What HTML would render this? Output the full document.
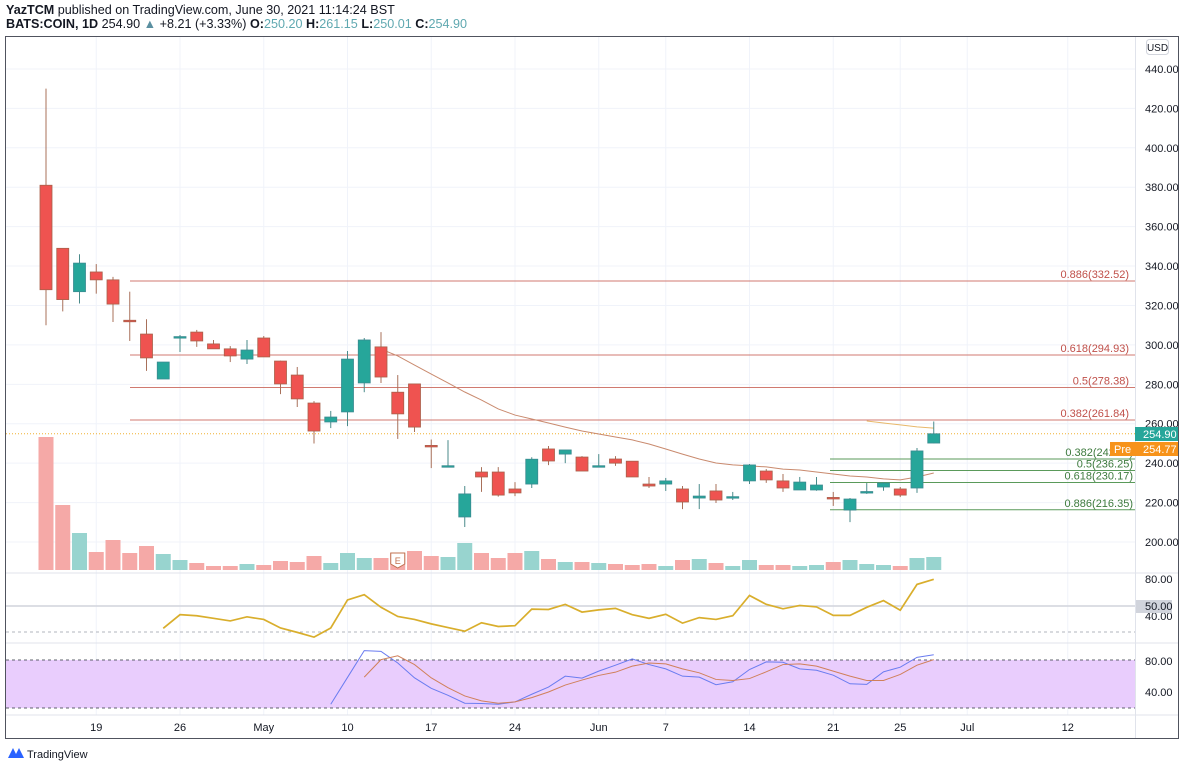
<!DOCTYPE html>
<html><head><meta charset="utf-8">
<style>
html,body{margin:0;padding:0;background:#fff;}
svg{display:block;font-family:"Liberation Sans",sans-serif;}
</style></head>
<body>
<svg id="chart" width="1186" height="768" viewBox="0 0 1186 768" xmlns="http://www.w3.org/2000/svg">
  <g>
    <text x="6" y="14" font-size="12.6" fill="#131722"><tspan font-weight="bold">YazTCM</tspan> published on TradingView.com, June 30, 2021 11:14:24 BST</text>
    <text x="6" y="28" font-size="12.6" fill="#131722"><tspan font-weight="bold">BATS:COIN, 1D</tspan>  254.90 <tspan fill="#5a8fa0">▲</tspan> +8.21 (+3.33%) <tspan font-weight="bold">O:</tspan><tspan fill="#5fa8b0">250.20</tspan> <tspan font-weight="bold">H:</tspan><tspan fill="#5fa8b0">261.15</tspan> <tspan font-weight="bold">L:</tspan><tspan fill="#5fa8b0">250.01</tspan> <tspan font-weight="bold">C:</tspan><tspan fill="#5fa8b0">254.90</tspan></text>
  </g>
  <rect x="5.5" y="36.5" width="1173" height="702" fill="#fff" stroke="#50535e" stroke-width="1"/>
  <g id="grid"></g>
  <g id="main"></g>
  <g id="rsi"></g>
  <g id="stoch"></g>
  <g id="axes"></g>
  <g>
    <path d="M8 758 L13 748 L16 754 L19 748 L24 758 Z" fill="#2962ff"/>
    <text x="27" y="758" font-size="11" fill="#131722">TradingView</text>
  </g>
</svg>
<script>
const opens=[381,349,327,337,333,312.5,305.5,282.7,303.8,306.5,300.5,298,292.8,303.5,291.8,284.7,270.5,260.9,266,280.7,299,276,280.2,249,238.3,212.7,235.5,235.5,226.9,229.4,247.2,244.6,243.1,238.3,242.1,241,229.4,229.4,226.9,222.3,225.9,222.6,231,236,231,226.4,226.4,222.6,216.2,225.2,227.9,226.9,227.4,250.2];
const highs=[430,349,346,341,334.5,327,313,291.3,305,307.6,302.5,299.4,302.5,304.5,292,288.8,271.5,266.5,296.9,303.5,306.5,284.7,280.2,252,251.7,228.4,238,238,230.4,243,248.7,246.7,243.6,244.6,243.6,241,233,232.5,228.4,229.4,229.4,225.4,239.6,237,234.5,233,233,225.4,222.3,229.9,230.4,227.9,247.7,261.15];
const lows=[310,317,321,326,311.6,302,286.8,282.7,296.4,299,298,291.3,290.3,294,275,268.5,250,257.8,258.8,276,280.7,252.3,255.8,237.5,238.3,207.6,225.4,223,223.3,227.4,239,240,236,238,238.6,233,227.4,225.9,216.7,216.7,219.8,221.3,229.4,230,225.4,226.4,226,218.3,210.1,224.4,226,222.8,224.9,250.01];
const closes=[328,323,341.5,333,320.7,312,293.4,291.3,304.2,302,298,294.4,297.4,293.9,280.2,272.6,256.3,263.4,292.8,302.5,283.7,265,258.3,248.4,238.7,224.4,233,223.8,224.9,242,241.1,246.7,236,238.7,240,233,228.4,231,220.3,223.3,221.3,223,239.1,231.5,227.4,230.4,228.9,222.2,221.8,225.6,229.9,223.8,246.2,254.9];
const volumes=[133,65,37,18,30,17,24,16,10,7,4,4,6,5,9,8,14,7,17,12,12,17,19,14,13,27,17,12,17,19,11,8,8,7,6,5,6,4,10,11,7,4,10,5,5,4,5,8,10,6,5,4,12,13];
const maStart=20;
const maValues=[297.9,294.4,289.8,285.2,280.7,276.1,272,267.5,264.4,262.4,260.4,258.3,256.3,254.8,253.3,251.8,249.7,247.2,244.6,242.1,240.1,239.1,238.6,238.1,237,236.5,235.5,234.5,233.5,233,232,231.5,233,235];
const ma2Start=49;
const ma2Values=[261.4,260.4,259.4,258.4,257.8];
const fibRedLevels=[332.52,294.93,278.38,261.84];
const fibRedLabels=["0.886(332.52)","0.618(294.93)","0.5(278.38)","0.382(261.84)"];
const fibGreenLevels=[242.11,236.25,230.17,216.35];
const fibGreenLabels=["0.382(242.11)","0.5(236.25)","0.618(230.17)","0.886(216.35)"];
const priceTicks=[440,420,400,380,360,340,320,300,280,260,240,220,200];
const rsiStart=7;
const rsiValues=[23.75,37.6,36.5,33.9,31.25,35.4,32.75,24.1,19.6,14.75,24.1,52.6,57.9,45.1,35.75,32.75,28.25,24.5,20.75,29.4,25.6,26.4,43.25,42.9,48.1,40.25,42.5,44,37.6,33.9,38,29,34.6,32.75,36.5,57.1,48.1,43.6,47,45.5,36.9,36.9,45.1,51.9,42.1,68.4,73.6];
const stochKStart=17;
const stochK=[24.7,58.2,91.7,90.8,76.3,57.7,44.6,35.9,26,25.6,24.7,27.6,37.2,46.2,59.8,57.4,66.1,73.5,81.3,74.3,68.9,59.8,58.6,49.1,52.8,68.1,77.6,77.2,68.9,67.2,61,50.3,49.5,65.2,71,83.3,86.6];
const stochDStart=19;
const stochD=[58.6,80.5,85.3,74.3,57.7,45.4,35.1,28.9,26,27.6,33,40,48.7,54.9,60.7,64.8,72.3,76.3,75.1,68.9,64,55.7,54.4,56.8,65.2,74.3,75.1,72.3,66.1,59.8,54.4,54.4,61.9,73.5,80.5];
const dateLabels=["19","26","May","10","17","24","Jun","7","14","21","25","Jul","12"];
const dateBars=[3,8,13,18,23,28,33,37,42,47,51,55,61];

const NS="http://www.w3.org/2000/svg";
function mk(tag,attrs,parent){const e=document.createElementNS(NS,tag);for(const k in attrs)e.setAttribute(k,attrs[k]);parent.appendChild(e);return e;}
const xBar=i=>46+i*16.75;
const yPrice=p=>542-(p-200)*1.971;
const yVol=v=>570-v;
const yRsi=v=>573+(80-v)*0.983;
const yStoch=v=>660+(80-v)*0.8;
const PL=6,PR=1135;

const grid=document.getElementById('grid');
const main=document.getElementById('main');
const rsi=document.getElementById('rsi');
const stoch=document.getElementById('stoch');
const axes=document.getElementById('axes');

priceTicks.forEach(p=>{
  const l=mk('line',{x1:PL,x2:PR,y1:yPrice(p),y2:yPrice(p),stroke:'#f0f3fa','stroke-width':1},grid);
  
  
});
dateBars.forEach(b=>{
  const l=mk('line',{x1:xBar(b),x2:xBar(b),y1:37,y2:715,stroke:'#f0f3fa','stroke-width':1},grid);
  
  
});
[573,643,715].forEach(y=>{
  const l=mk('line',{x1:PL,x2:1178,y1:y,y2:y,stroke:'#e0e3eb','stroke-width':1},axes);
  
  
});
const ad=mk('line',{x1:PR+0.5,x2:PR+0.5,y1:37,y2:738,stroke:'#e0e3eb','stroke-width':1},axes);



volumes.forEach((v,i)=>{
  const up=closes[i]>=opens[i];
  const r=mk('rect',{x:xBar(i)-7.5,y:yVol(v),width:15,height:v,fill:up?'#98d4cf':'#f5a9a7'},main);
  
  
});
const eg=mk('g',{},main);


mk('path',{d:`M${xBar(21)-7} 553 h14 v11 l-7 4 l-7 -4 Z`,fill:'#fff',stroke:'#c0704f','stroke-width':1},eg);
mk('text',{x:xBar(21),y:564,'font-size':9,'text-anchor':'middle',fill:'#c0704f'},eg).textContent='E';

fibRedLevels.forEach((p,i)=>{
  const l=mk('line',{x1:130,x2:PR,y1:yPrice(p),y2:yPrice(p),stroke:'#d07a70','stroke-width':1,'shape-rendering':'crispEdges'},main);
  
  
  const t=mk('text',{x:1129,y:yPrice(p)-3,'font-size':11,'text-anchor':'end',fill:'#c0504a'},main);
  t.textContent=fibRedLabels[i];
  
  
});
fibGreenLevels.forEach((p,i)=>{
  const l=mk('line',{x1:830,x2:PR,y1:yPrice(p),y2:yPrice(p),stroke:'#5a9a5a','stroke-width':1},main);
  
  
  const t=mk('text',{x:1133,y:yPrice(p)-3,'font-size':11,'text-anchor':'end',fill:'#3d7a3d'},main);
  t.textContent=fibGreenLabels[i];
  
  
});
const pl=mk('line',{x1:PL,x2:PR,y1:yPrice(254.9),y2:yPrice(254.9),stroke:'#f0b030','stroke-width':1,'stroke-dasharray':'1 2'},main);



const maPts=maValues.map((v,i)=>xBar(maStart+i)+','+yPrice(v)).join(' ');
const ma=mk('polyline',{points:maPts,fill:'none',stroke:'#c98a6e','stroke-width':1},main);


const ma2Pts=ma2Values.map((v,i)=>xBar(ma2Start+i)+','+yPrice(v)).join(' ');
const ma2=mk('polyline',{points:ma2Pts,fill:'none',stroke:'#e8b86a','stroke-width':1},main);



opens.forEach((o,i)=>{
  const c=closes[i],up=c>=o,x=xBar(i);
  const g=mk('g',{},main);
  
  
  mk('line',{x1:x,x2:x,y1:yPrice(highs[i]),y2:yPrice(lows[i]),stroke:up?'#4a8a8a':'#a8705a','stroke-width':1},g);
  const top=yPrice(Math.max(o,c)),bot=yPrice(Math.min(o,c));
  mk('rect',{x:x-6,y:top,width:12,height:Math.max(1.5,bot-top),fill:up?'#26a69a':'#ef5350',stroke:up?'#3a8a90':'#a8604a','stroke-width':0.8},g);
});

[80,20].forEach(v=>{
  const l=mk('line',{x1:PL,x2:PR,y1:yRsi(v),y2:yRsi(v),stroke:'#b2b5be','stroke-width':1,'stroke-dasharray':'3 3'},rsi);
  
  
});
const mid=mk('line',{x1:PL,x2:PR,y1:606,y2:606,stroke:'#d1d4dc','stroke-width':1.5},rsi);


const rl=mk('polyline',{points:rsiValues.map((v,i)=>xBar(rsiStart+i)+','+yRsi(v)).join(' '),fill:'none',stroke:'#d9ae2c','stroke-width':1.7},rsi);



const sf=mk('rect',{x:PL,y:yStoch(80),width:PR-PL,height:yStoch(20)-yStoch(80),fill:'#e9cdfd'},stoch);


[80,20].forEach(v=>{
  const l=mk('line',{x1:PL,x2:PR,y1:yStoch(v),y2:yStoch(v),stroke:'#5d606b','stroke-width':1,'stroke-dasharray':'3 3'},stoch);
  
  
});
const kl=mk('polyline',{points:stochK.map((v,i)=>xBar(stochKStart+i)+','+yStoch(v)).join(' '),fill:'none',stroke:'#6a7cf0','stroke-width':1},stoch);


const dl=mk('polyline',{points:stochD.map((v,i)=>xBar(stochDStart+i)+','+yStoch(v)).join(' '),fill:'none',stroke:'#d0805a','stroke-width':1},stoch);



priceTicks.forEach(p=>{
  const t=mk('text',{x:1145,y:yPrice(p)+4,'font-size':11,fill:'#131722'},axes);
  t.textContent=p.toFixed(2);
  
  
});
const usd=mk('g',{},axes);


mk('rect',{x:1146.5,y:39.5,width:22,height:15,rx:3,fill:'#fff',stroke:'#d1d4dc'},usd);
mk('text',{x:1157.5,y:51,'font-size':10,'text-anchor':'middle',fill:'#131722'},usd).textContent='USD';
const b1=mk('g',{},axes);


mk('rect',{x:1135,y:427,width:43,height:14,fill:'#26a69a'},b1);
mk('text',{x:1143,y:438,'font-size':11,fill:'#fff'},b1).textContent='254.90';
const b2=mk('g',{},axes);


mk('rect',{x:1110,y:442,width:68,height:14,fill:'#f7931a'},b2);
mk('text',{x:1114,y:453,'font-size':11,fill:'#fff'},b2).textContent='Pre';
mk('text',{x:1143,y:453,'font-size':11,fill:'#fff'},b2).textContent='254.77';
[[80,579],[40,616]].forEach(a=>{
  const t=mk('text',{x:1145,y:a[1]+4,'font-size':11,fill:'#131722'},axes);
  t.textContent=a[0].toFixed(2);
  
  
});
const rb=mk('g',{},axes);


mk('rect',{x:1136,y:600,width:36,height:13,fill:'#d1d4dc'},rb);
mk('text',{x:1145,y:610,'font-size':11,fill:'#131722'},rb).textContent='50.00';
[80,40].forEach(v=>{
  const t=mk('text',{x:1145,y:yStoch(v)+4+(v===80?1:0),'font-size':11,fill:'#131722'},axes);
  t.textContent=v.toFixed(2);
  
  
});
dateLabels.forEach((d,i)=>{
  const t=mk('text',{x:xBar(dateBars[i]),y:731,'font-size':11,'text-anchor':'middle',fill:'#131722'},axes);
  t.textContent=d;
  
  
});
</script>
</body></html>
